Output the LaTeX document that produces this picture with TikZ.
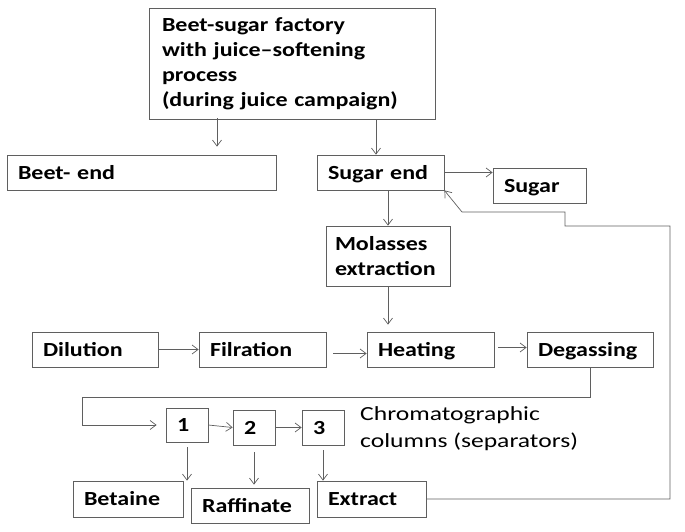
\documentclass[tikz,border=0pt]{standalone}
\usepackage{fontspec}
\setmainfont{Carlito}[FakeStretch=1.2]
\newfontfamily\labelfont{Carlito}[FakeStretch=1.28]
\usepackage{tikz}
\usetikzlibrary{arrows.meta, positioning}
\definecolor{linegray}{RGB}{95,95,95}

\begin{document}
\begin{tikzpicture}[x=1pt, y=-1pt,
    box/.style={draw=linegray, line width=0.8pt, rectangle, inner xsep=11pt, inner ysep=2pt, align=left, font=\fontsize{20}{25}\selectfont\bfseries},
    oneline/.style={text height=13pt, text depth=0pt},
    arr/.style={-{Straight Barb[length=6pt, width=9pt]}, draw=linegray, line width=0.7pt}]
        \useasboundingbox (0,0) rectangle (685,531);
        \node[box, inner xsep=13pt, text width=260pt, minimum height=111pt] (factory) at (292,64) {Beet-sugar factory\\with juice--softening\\process\\(during juice campaign)};
        \node[box, oneline, text width=247pt, minimum height=35pt] (beetend) at (141.5,172.5) {Beet- end};
        \node[box, oneline, text width=105pt, minimum height=35pt] (sugarend) at (380.5,172.5) {Sugar end};
        \node[box, oneline, text width=71pt, minimum height=35pt] (sugar) at (539.5,185.5) {Sugar};
        \node[box, inner xsep=9pt, text width=106pt, minimum height=60pt] (molasses) at (388,256) {Molasses\\extraction};
        % juice line
        \node[box, oneline, text width=104pt, minimum height=35pt] (dilution) at (95,349.5) {Dilution};
        \node[box, oneline, text width=105pt, minimum height=35pt] (filration) at (262.5,349.5) {Filration};
        \node[box, oneline, text width=105pt, minimum height=35pt] (heating) at (430.5,349.5) {Heating};
        \node[box, oneline, text width=104pt, minimum height=35pt] (degassing) at (590,349.5) {Degassing};
        % separators
        \node[box, oneline, text width=20pt, minimum height=34pt] (col1) at (187,425) {1};
        \node[box, oneline, text width=20pt, minimum height=35pt] (col2) at (254,427.5) {2};
        \node[box, oneline, text width=20pt, minimum height=35pt] (col3) at (323,427.5) {3};
        \node[font=\labelfont\fontsize{20}{27}\selectfont, align=left, anchor=west, inner sep=0pt] (chromlabel) at (360,429) {Chromatographic\\columns (separators)};
        \node[box, oneline, text width=88pt, minimum height=36pt] (betaine) at (128,499) {Betaine};
        \node[box, oneline, text width=96pt, minimum height=35pt] (raffinate) at (250,505.5) {Raffinate};
        \node[box, oneline, text width=87pt, minimum height=36pt] (extract) at (371.5,499) {Extract};
        \coordinate (bdrop) at (217,118);
        \coordinate (sdrop) at (376,118);
        \coordinate (loopturn) at (82,397);
        \coordinate (ret1) at (670,226);
        \coordinate (ret2) at (565,212);
        \coordinate (ret3) at (462,212);
        \draw[arr, shorten >=8pt] (bdrop) -- (bdrop |- beetend.north);
        \draw[arr, shorten <=2pt] (sdrop) -- (sdrop |- sugarend.north);
        \draw[arr] (sugarend.east) -- (sugarend.east -| sugar.west);
        \draw[arr] (sugarend.south -| molasses.north) -- (molasses.north);
        \draw[arr, shorten >=7pt] (molasses.south) -- (molasses.south |- heating.north);
        \draw[arr] (dilution.east) -- (filration.west);
        \draw[arr, shorten <=7pt] ([yshift=-4pt]filration.east) -- ([yshift=-4pt]heating.west);
        \draw[arr, shorten <=4pt] ([yshift=2pt]heating.east) -- ([yshift=2pt]degassing.west);
        \draw[arr, shorten >=9pt] (degassing.south) |- (loopturn) |- (col1.west);
        \draw[arr] (col1.east) -- (col2.west);
        \draw[arr] (col2.east) -- (col3.west);
        \draw[arr, shorten <=5pt] (col1.south) -- (col1.south |- betaine.north);
        \draw[arr, shorten <=7pt, shorten >=3pt] (col2.south) -- (col2.south |- raffinate.north);
        \draw[arr, shorten <=5pt] (col3.south) -- (col3.south |- extract.north);
        \draw[arr] (extract.east) -| (ret1) -| (ret2) -- (ret3) -- (sugarend.south east);
    \end{tikzpicture}
\end{document}
